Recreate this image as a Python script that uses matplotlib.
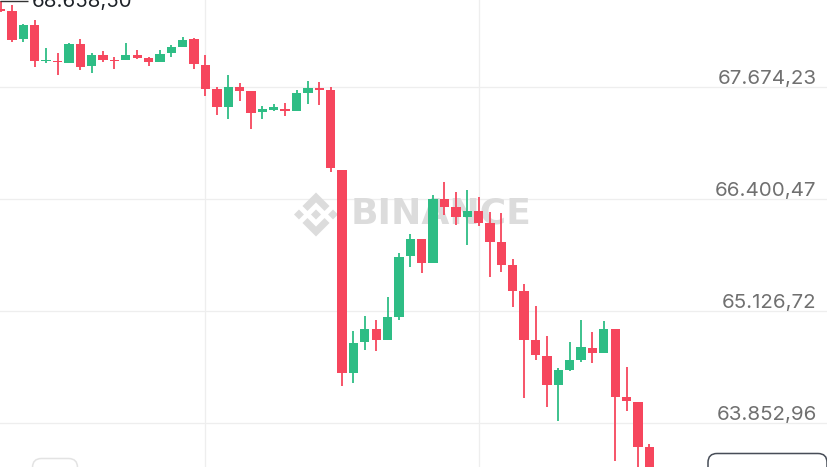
import matplotlib
matplotlib.use("Agg")
import matplotlib.pyplot as plt
import matplotlib.transforms as mtransforms
from matplotlib.patches import Polygon, FancyBboxPatch
import numpy as np

# ローソク足データ (BTC/USDT, 一部だけ切り出し)
opens = [68564.2, 68544.9, 68223.2, 68378.9, 67973.2, 67973.2, 67947.0, 68163.0, 67916.3, 68038.0,
         67984.5, 67981.1, 68041.4, 68007.3, 67958.4, 68060.7, 68135.7, 68219.8, 67927.7, 67651.5,
         67446.9, 67681.1, 67632.2, 67393.5, 67416.2, 67431.0, 67404.9, 67612.9, 67662.9, 67643.6,
         66734.3, 64423.6, 64779.3, 64923.7, 64798.7, 65066.9, 65756.8, 65950.0, 65673.8, 66401.3,
         66313.7, 66203.5, 66271.7, 66128.5, 65915.9, 65651.1, 65359.0, 64802.1, 64623.6, 64284.9,
         64457.7, 64574.7, 64713.4, 64650.9, 64930.5, 64150.8, 64093.9, 63582.5]
closes = [68541.5, 68211.9, 68385.8, 67973.2, 67984.5, 67958.4, 68169.8, 67908.4, 68041.4, 67984.5,
          67969.8, 68038.0, 68010.7, 67958.4, 68052.7, 68128.9, 68211.9, 67935.7, 67654.9, 67446.9,
          67681.1, 67635.6, 67385.6, 67424.2, 67446.9, 67401.5, 67612.9, 67662.9, 67643.6, 66753.6,
          64423.6, 64771.4, 64923.7, 64802.1, 65060.1, 65748.9, 65950.0, 65673.8, 66401.3, 66317.2,
          66203.5, 66271.7, 66128.5, 65919.3, 65654.5, 65359.0, 64802.1, 64631.6, 64284.9, 64464.5,
          64571.3, 64716.8, 64650.9, 64930.5, 64150.8, 64108.7, 63589.3, 63200.0]
highs = [68658.5, 68606.3, 68393.7, 68439.2, 68124.3, 68060.7, 68177.8, 68223.2, 68067.5, 68090.2,
         68015.2, 68181.2, 68094.8, 68015.2, 68098.2, 68155.0, 68249.4, 68234.6, 68041.4, 67681.1,
         67814.0, 67719.7, 67632.2, 67461.7, 67484.4, 67492.4, 67643.6, 67749.3, 67731.1, 67681.1,
         66734.3, 64907.8, 65074.8, 65029.4, 65287.4, 65794.3, 66006.9, 65950.0, 66453.5, 66594.5,
         66480.8, 66507.0, 66424.0, 66260.3, 66242.1, 65719.3, 65438.6, 65188.5, 64847.5, 64480.4,
         64773.6, 65027.1, 64889.5, 65015.7, 64930.5, 64489.5, 64093.9, 63616.6]
lows = [68530.1, 68192.5, 68185.7, 67901.6, 67947.0, 67810.6, 67947.0, 67870.9, 67833.4, 67965.2,
        67882.2, 67981.1, 67992.5, 67916.3, 67958.4, 68018.6, 68135.7, 67878.8, 67575.4, 67359.4,
        67310.5, 67518.5, 67196.9, 67317.4, 67401.5, 67348.0, 67404.9, 67484.4, 67473.1, 66715.0,
        64279.2, 64316.7, 64688.4, 64677.0, 64798.7, 65029.4, 65635.2, 65560.2, 65673.8, 66219.4,
        66109.1, 65881.8, 66101.2, 65521.5, 65571.5, 65173.7, 64139.4, 64574.7, 64037.1, 63881.4,
        64449.7, 64552.0, 64537.2, 64650.9, 63430.2, 63995.1, 63300.0, 63150.0]

# 価格軸の目盛り
price_ticks = [67674.23, 66400.47, 65126.72, 63852.96]
max_label = 68658.50
vgrid_idx = [18, 42]

W, H = 828, 467
RED = "#F6465D"
GREEN = "#2EBD85"

fig = plt.figure(figsize=(W / 100, H / 100), dpi=100)
ax = fig.add_axes([0, 0, 1, 1])
ax.set_xlim(-0.0545, 72.70)
ax.set_ylim(63358.5, 68666.5)
ax.axis("off")
fig.patch.set_facecolor("white")

def px(x, y):
    # ピクセル座標 -> figure座標
    return (x / W, 1 - y / H)

# グリッド
for p in price_ticks:
    ax.axhline(p, color="#EEEEEE", lw=0.9, zorder=0)
for i in vgrid_idx:
    ax.axvline(i, color="#EEEEEE", lw=0.9, zorder=0)

# ウォーターマーク (ロゴ + 文字)
logo = [
    [(38.73, 53.2), (63.3, 28.63), (87.89, 53.22), (102.19, 38.92), (63.3, 0), (24.42, 38.9)],
    [(0, 63.31), (14.3, 49.01), (28.6, 63.31), (14.3, 77.61)],
    [(63.3, 48.79), (77.83, 63.31), (63.3, 77.84), (48.78, 63.31)],
    [(98.01, 63.31), (112.31, 49.01), (126.61, 63.31), (112.31, 77.61)],
    [(38.73, 73.41), (63.3, 97.99), (87.89, 73.41), (102.19, 87.69), (63.3, 126.61), (24.42, 87.71)],
]
s = 44 / 126.61
for poly in logo:
    pts = [px(294 + a * s, 192.5 + b * s) for a, b in poly]
    ax.add_patch(Polygon(pts, closed=True, facecolor="#DCDCDC", edgecolor="none",
                         transform=fig.transFigure, zorder=1, clip_on=False))
ax.text(*px(351, 214), "BINANCE", transform=fig.transFigure, fontsize=26, fontweight="bold",
        family="DejaVu Sans", color="#DCDCDC", ha="left", va="center", zorder=1)

# ローソク足
x = np.arange(len(opens))
o = np.array(opens)
c = np.array(closes)
colors = [GREEN if cc >= oo else RED for oo, cc in zip(o, c)]
ax.vlines(x, lows, highs, colors=colors, lw=1.3, zorder=2)
body = np.maximum(np.abs(c - o), 12)
ax.bar(x, body, bottom=np.minimum(o, c), width=0.82, color=colors, zorder=3)

# 右側の価格ラベル
lab_tr = mtransforms.offset_copy(ax.get_yaxis_transform(), fig=fig, x=0, y=3, units="dots")
for p in price_ticks:
    txt = f"{p:,.2f}".replace(",", "X").replace(".", ",").replace("X", ".")
    ax.text(816.7 / W, p, txt, transform=lab_tr, ha="right", va="baseline",
            fontsize=14.8, family="Inter", color="#707070", zorder=4)

# 最高値マーカー
ax.hlines(max_label, 0, 28 / W, transform=ax.get_yaxis_transform(), color="#333333", lw=1, zorder=4)
top_tr = mtransforms.offset_copy(ax.get_yaxis_transform(), fig=fig, x=0, y=-6.6, units="dots")
txt = f"{max_label:,.2f}".replace(",", "X").replace(".", ",").replace("X", ".")
ax.text(31.5 / W, max_label, txt, transform=top_tr, ha="left", va="baseline",
        fontsize=14.8, family="Inter", color="#1E2329", zorder=4)

# 下端のボタン類 (切れている)
x0, y0 = px(708, 500)
x1, y1 = px(827, 453.5)
fig.add_artist(FancyBboxPatch((x0, y0), x1 - x0, y1 - y0,
                              boxstyle=f"round,pad=0,rounding_size={9 / W}",
                              transform=fig.transFigure, facecolor="white",
                              edgecolor="#474D57", lw=1.1, mutation_aspect=W / H))
x0, y0 = px(32.5, 500)
x1, y1 = px(77.5, 458.5)
fig.add_artist(FancyBboxPatch((x0, y0), x1 - x0, y1 - y0,
                              boxstyle=f"round,pad=0,rounding_size={9 / W}",
                              transform=fig.transFigure, facecolor="white",
                              edgecolor="#E3E3E3", lw=1.1, mutation_aspect=W / H))

fig.savefig("out.png", dpi=100, facecolor="white")
